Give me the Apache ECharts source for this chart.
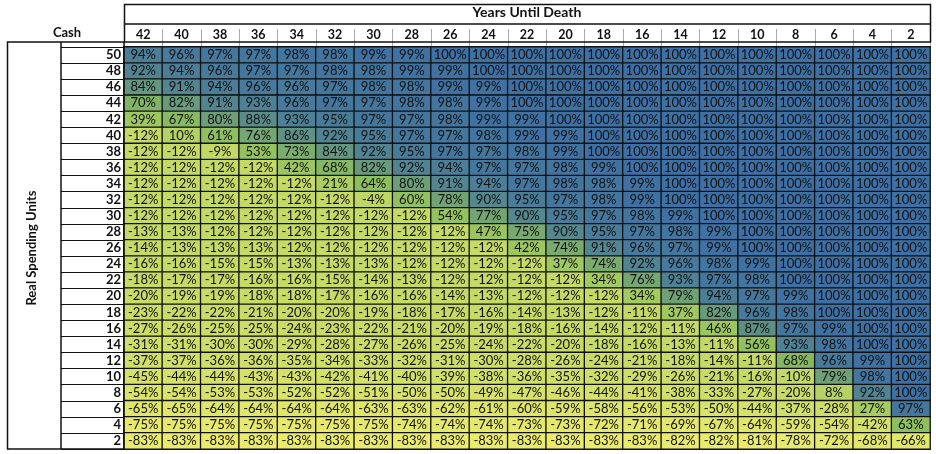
<!DOCTYPE html>
<html><head><meta charset="utf-8">
<script src="https://cdn.jsdelivr.net/npm/echarts@6/dist/echarts.min.js"></script>
<style>html,body{margin:0;padding:0;background:#fff}#c{width:936px;height:454px}</style>
</head><body><div id="c"></div>
<script>
const yearsCols = ['42','40','38','36','34','32','30','28','26','24','22','20','18','16','14','12','10','8','6','4','2'];
const spendRows = ['50','48','46','44','42','40','38','36','34','32','30','28','26','24','22','20','18','16','14','12','10','8','6','4','2'];
const r50 = [94,96,97,97,98,98,99,99,100,100,100,100,100,100,100,100,100,100,100,100,100];
const r48 = [92,94,96,97,97,98,98,99,99,100,100,100,100,100,100,100,100,100,100,100,100];
const r46 = [84,91,94,96,96,97,98,98,99,99,100,100,100,100,100,100,100,100,100,100,100];
const r44 = [70,82,91,93,96,97,97,98,98,99,100,100,100,100,100,100,100,100,100,100,100];
const r42 = [39,67,80,88,93,95,97,97,98,99,99,100,100,100,100,100,100,100,100,100,100];
const r40 = [-12,10,61,76,86,92,95,97,97,98,99,99,100,100,100,100,100,100,100,100,100];
const r38 = [-12,-12,-9,53,73,84,92,95,97,97,98,99,100,100,100,100,100,100,100,100,100];
const r36 = [-12,-12,-12,-12,42,68,82,92,94,97,97,98,99,100,100,100,100,100,100,100,100];
const r34 = [-12,-12,-12,-12,-12,21,64,80,91,94,97,98,98,99,100,100,100,100,100,100,100];
const r32 = [-12,-12,-12,-12,-12,-12,-4,60,78,90,95,97,98,99,100,100,100,100,100,100,100];
const r30 = [-12,-12,-12,-12,-12,-12,-12,-12,54,77,90,95,97,98,99,100,100,100,100,100,100];
const r28 = [-13,-13,-12,-12,-12,-12,-12,-12,-12,47,75,90,95,97,98,99,100,100,100,100,100];
const r26 = [-14,-13,-13,-13,-12,-12,-12,-12,-12,-12,42,74,91,96,97,99,100,100,100,100,100];
const r24 = [-16,-16,-15,-15,-13,-13,-13,-12,-12,-12,-12,37,74,92,96,98,99,100,100,100,100];
const r22 = [-18,-17,-17,-16,-16,-15,-14,-13,-12,-12,-12,-12,34,76,93,97,98,100,100,100,100];
const r20 = [-20,-19,-19,-18,-18,-17,-16,-16,-14,-13,-12,-12,-12,34,79,94,97,99,100,100,100];
const r18 = [-23,-22,-22,-21,-20,-20,-19,-18,-17,-16,-14,-13,-12,-11,37,82,96,98,100,100,100];
const r16 = [-27,-26,-25,-25,-24,-23,-22,-21,-20,-19,-18,-16,-14,-12,-11,46,87,97,99,100,100];
const r14 = [-31,-31,-30,-30,-29,-28,-27,-26,-25,-24,-22,-20,-18,-16,-13,-11,56,93,98,100,100];
const r12 = [-37,-37,-36,-36,-35,-34,-33,-32,-31,-30,-28,-26,-24,-21,-18,-14,-11,68,96,99,100];
const r10 = [-45,-44,-44,-43,-43,-42,-41,-40,-39,-38,-36,-35,-32,-29,-26,-21,-16,-10,79,98,100];
const r8  = [-54,-54,-53,-53,-52,-52,-51,-50,-50,-49,-47,-46,-44,-41,-38,-33,-27,-20,8,92,100];
const r6  = [-65,-65,-64,-64,-64,-64,-63,-63,-62,-61,-60,-59,-58,-56,-53,-50,-44,-37,-28,27,97];
const r4  = [-75,-75,-75,-75,-75,-75,-75,-74,-74,-74,-73,-73,-72,-71,-69,-67,-64,-59,-54,-42,63];
const r2  = [-83,-83,-83,-83,-83,-83,-83,-83,-83,-83,-83,-83,-83,-83,-82,-82,-81,-78,-72,-68,-66];
const rowValues = [r50,r48,r46,r44,r42,r40,r38,r36,r34,r32,r30,r28,r26,r24,r22,r20,r18,r16,r14,r12,r10,r8,r6,r4,r2];

const data = [];
rowValues.forEach((row, yi) => row.forEach((v, xi) => data.push([xi, yi, v])));

// colour scale (style only)
const stops = [[-83,[234,235,108]],[-12,[196,217,102]],[65,[140,190,94]],[84,[100,150,128]],[100,[61,112,165]]];
function colAt(v){
  for (let i=0;i<stops.length-1;i++){
    const a=stops[i], b=stops[i+1];
    if (v<=b[0]){ const t=(v-a[0])/(b[0]-a[0]); const c=a[1].map((x,k)=>Math.round(x+(b[1][k]-x)*t)); return 'rgb('+c.join(',')+')'; }
  }
  const l=stops[stops.length-1][1]; return 'rgb('+l.join(',')+')';
}
const ramp=[]; for(let v=-83; v<=100; v++) ramp.push(colAt(v));

const FONT = 'Lato';
const chart = echarts.init(document.getElementById('c'), null, {renderer:'canvas'});
chart.setOption({
  animation:false,
  textStyle:{fontFamily:FONT},
  grid:{left:124, right:6, top:42, bottom:5},
  xAxis:{type:'category', data:yearsCols, position:'top',
    name:'Years Until Death', nameLocation:'middle', nameGap:28,
    nameTextStyle:{fontFamily:FONT, fontWeight:'bold', fontSize:14, color:'#111'},
    axisLine:{show:false},
    axisTick:{show:true, interval:0, length:18, lineStyle:{color:'#aaa', width:1}},
    axisLabel:{interval:0, fontFamily:FONT, fontWeight:'bold', fontSize:12.5, color:'#111', margin:6},
    splitLine:{show:false}},
  yAxis:{type:'category', data:spendRows, inverse:true,
    name:'Real Spending Units', nameLocation:'middle', nameGap:86, nameRotate:90,
    nameTextStyle:{fontFamily:FONT, fontWeight:'bold', fontSize:13, color:'#111'},
    axisLine:{show:false},
    axisTick:{show:true, interval:0, length:63, lineStyle:{color:'#111', width:1}},
    axisLabel:{interval:0, fontFamily:FONT, fontWeight:'bold', fontSize:13, color:'#111', margin:3},
    splitLine:{show:false}},
  visualMap:{show:false, type:'continuous', min:-83, max:100, dimension:2, inRange:{color:ramp}},
  series:[{type:'heatmap', data:data,
    itemStyle:{borderColor:'#111', borderWidth:1.3},
    label:{show:true, fontFamily:FONT, fontSize:13, color:'#111', formatter:p=>p.value[2]+'%'},
    emphasis:{disabled:true}}],
  graphic:[
    {type:'rect', shape:{x:124.5, y:4.5, width:806, height:37.5}, style:{fill:'none', stroke:'#111', lineWidth:1.5}, z:10},
    {type:'line', shape:{x1:124, y1:24, x2:930, y2:24}, style:{stroke:'#111', lineWidth:1.5}, z:10},
    {type:'rect', shape:{x:7.5, y:42, width:116.5, height:407}, style:{fill:'none', stroke:'#111', lineWidth:1.5}, z:10},
    {type:'line', shape:{x1:61, y1:42, x2:61, y2:449}, style:{stroke:'#111', lineWidth:1.5}, z:10},
    {type:'text', x:67, y:33, style:{text:'Cash', fontFamily:FONT, fontWeight:'bold', fontSize:13, fill:'#111', align:'center', verticalAlign:'middle'}}
  ]
});
</script></body></html>
